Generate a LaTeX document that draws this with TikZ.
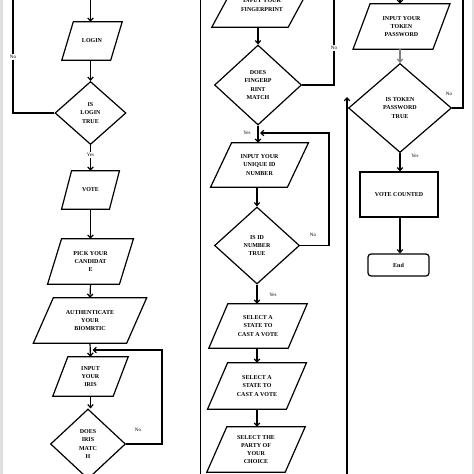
\documentclass[tikz,border=0pt]{standalone}
\usepackage{fontspec}
\setmainfont{Liberation Serif}
\usetikzlibrary{arrows.meta,shapes.geometric}

\tikzset{
  io/.style={rectangle, inner sep=0pt, align=center,
    font=\fontsize{6}{8.3}\selectfont\bfseries},
  decision/.style={diamond, draw, line width=1.2pt, inner sep=0pt, align=center,
    font=\fontsize{6}{8.3}\selectfont\bfseries},
  process/.style={draw, line width=1.2pt, align=center,
    font=\fontsize{6}{8.3}\selectfont\bfseries},
  flow/.style={line width=1.2pt, -{Straight Barb[length=3pt,width=5.5pt]}},
  link/.style={line width=1.2pt},
  tag/.style={font=\fontsize{5}{6}\selectfont, inner sep=1pt}
}
% outline of an input box: top edge pushed right, bottom edge pushed left
\newcommand{\slantbox}[2]{%
  \draw[line width=1.2pt] ([xshift=#2]#1.north west) -- ([xshift=#2]#1.north east)
    -- ([xshift=-#2]#1.south east) -- ([xshift=-#2]#1.south west) -- cycle;}

\begin{document}
\begin{tikzpicture}[x=1pt, y=-1pt]

      \useasboundingbox (0, 0) rectangle (474, 474);
      \clip (0, 0) rectangle (474, 474);
      \fill[gray!25] (0, 0) rectangle (2.5, 474);
      \fill[gray!25] (471.5, 0) rectangle (474, 474);

      % first column
      \node[io, minimum width = 48.5pt, minimum height = 38pt] (login) at (92, 41) {LOGIN};
      \slantbox{login}{5.75pt}
      \node[decision, minimum width = 71pt, minimum height = 63pt] (isLogin) at (90.5, 113) {IS\\LOGIN\\TRUE};
      \node[io, minimum width = 47.5pt, minimum height = 38pt] (vote) at (90.5, 190) {VOTE};
      \slantbox{vote}{5pt}
      \node[io, minimum width = 71.5pt, minimum height = 45pt] (pick) at (90.5, 261.5) {PICK YOUR\\CANDIDAT\\E};
      \slantbox{pick}{7pt}
      \node[io, minimum width = 93pt, minimum height = 45pt] (auth) at (90, 320.5) {AUTHENTICATE\\YOUR\\BIOMRTIC};
      \slantbox{auth}{10pt}
      \node[io, minimum width = 60pt, minimum height = 39pt] (iris) at (90.5, 376.5) {INPUT\\YOUR\\IRIS};
      \slantbox{iris}{7.5pt}
      \node[decision, minimum width = 75pt, minimum height = 70pt] (irisMatch) at (88, 444) {DOES\\IRIS\\MATC\\H};

      \coordinate (topA) at (90.5, -10);
      \coordinate (loopA) at (13, -10);
      \coordinate (irisIn) at (92.5, 350);

      \draw[flow] (topA) -- (topA |- login.north);
      \draw[flow] (isLogin.north |- login.south) -- (isLogin.north);
      \draw[link] (isLogin.west) -- (13, 113) -- (loopA);
      \node[tag, fill = white] (noLogin) at (13, 57) {No};
      \draw[flow] (isLogin.south) -- (vote.north);
      \node[tag, fill = white] (yesLogin) at (90.5, 155) {Yes};
      \draw[flow] (vote.south) -- (pick.north);
      \draw[flow] (pick.south) -- (auth.north);
      \draw[flow] (auth.south) -- (iris.north);
      \draw[flow] (iris.south) -- (iris.south |- irisMatch.north);
      \draw[flow] (irisMatch.east) -- (162, 444) -- (162, 350) -- (irisIn);
      \node[tag] (noIris) at (138, 430) {No};

      % second column
      \draw[link] (200.5, 0) -- (200.5, 474);
      \node[io, minimum width = 76pt, minimum height = 44pt] (finger) at (262, 5) {INPUT YOUR\\FINGERPRINT};
      \slantbox{finger}{12pt}
      \node[decision, minimum width = 87pt, minimum height = 80pt] (fingerMatch) at (258, 85) {DOES\\FINGERP\\RINT\\MATCH};
      \node[io, minimum width = 76.5pt, minimum height = 44pt] (uid) at (259.5, 165) {INPUT YOUR\\UNIQUE ID\\NUMBER};
      \slantbox{uid}{10.5pt}
      \node[decision, minimum width = 85pt, minimum height = 77pt] (isId) at (257, 245.5) {IS ID\\NUMBER\\TRUE};
      \node[io, minimum width = 79pt, minimum height = 44pt] (stateA) at (258, 326) {SELECT A\\STATE TO\\CAST A VOTE};
      \slantbox{stateA}{9.5pt}
      \node[io, minimum width = 78.5pt, minimum height = 46pt] (stateB) at (257, 386) {SELECT A\\STATE TO\\CAST A VOTE};
      \slantbox{stateB}{10pt}
      \node[io, minimum width = 78pt, minimum height = 45pt] (party) at (256, 449.5) {SELECT THE\\PARTY OF\\YOUR\\CHOICE};
      \slantbox{party}{10pt}

      \coordinate (loopB) at (334, -10);
      \coordinate (uidIn) at (260, 133);

      \draw[flow] (finger.south -| fingerMatch.north) -- (fingerMatch.north);
      \draw[link] (fingerMatch.east) -- (334, 85) -- (loopB);
      \node[tag, fill = white] (noFinger) at (334, 48) {No};
      \draw[flow] (fingerMatch.south) -- (uid.north -| fingerMatch.south);
      \node[tag] (yesFinger) at (247, 133) {Yes};
      \draw[flow] (uid.south -| isId.north) -- (isId.north);
      \draw[flow] (isId.east) -- (329, 245.5) -- (329, 133) -- (uidIn);
      \node[tag] (noId) at (313, 235) {No};
      \draw[flow] (isId.south) -- (stateA.north -| isId.south);
      \node[tag] (yesId) at (273, 295) {Yes};
      \draw[flow] (stateA.south -| isId.south) -- (stateB.north -| isId.south);
      \draw[flow] (stateB.south -| isId.south) -- (party.north -| isId.south);

      % third column
      \node[io, minimum width = 79.5pt, minimum height = 45pt] (token) at (401.5, 26.5) {INPUT YOUR\\TOKEN\\PASSWORD};
      \slantbox{token}{8.5pt}
      \node[decision, minimum width = 103pt, minimum height = 89pt] (isToken) at (400, 108) {IS TOKEN\\PASSWORD\\TRUE};
      \node[process, minimum width = 78pt, minimum height = 45pt] (counted) at (399, 194.5) {VOTE COUNTED};
      \node[process, rounded corners = 3pt, minimum width = 61pt, minimum height = 22pt] (end) at (398.5, 265) {End};

      \coordinate (topC) at (400, -10);
      \coordinate (loopC) at (463, -10);
      \coordinate (bottomC) at (347, 480);
      \coordinate (tokenIn) at (347, 97);

      \draw[flow] (topC) -- (token.north -| topC);
      \draw[flow, gray] (token.south -| isToken.north) -- (isToken.north);
      \draw[link] (isToken.east) -- (463, 108) -- (loopC);
      \node[tag] (noToken) at (449, 94) {No};
      \draw[flow] (isToken.south) -- (counted.north -| isToken.south);
      \node[tag] (yesToken) at (415, 156) {Yes};
      \draw[flow] (counted.south -| isToken.south) -- (end.north -| isToken.south);
      \draw[flow] (bottomC) -- (tokenIn);

    \end{tikzpicture}
\end{document}
